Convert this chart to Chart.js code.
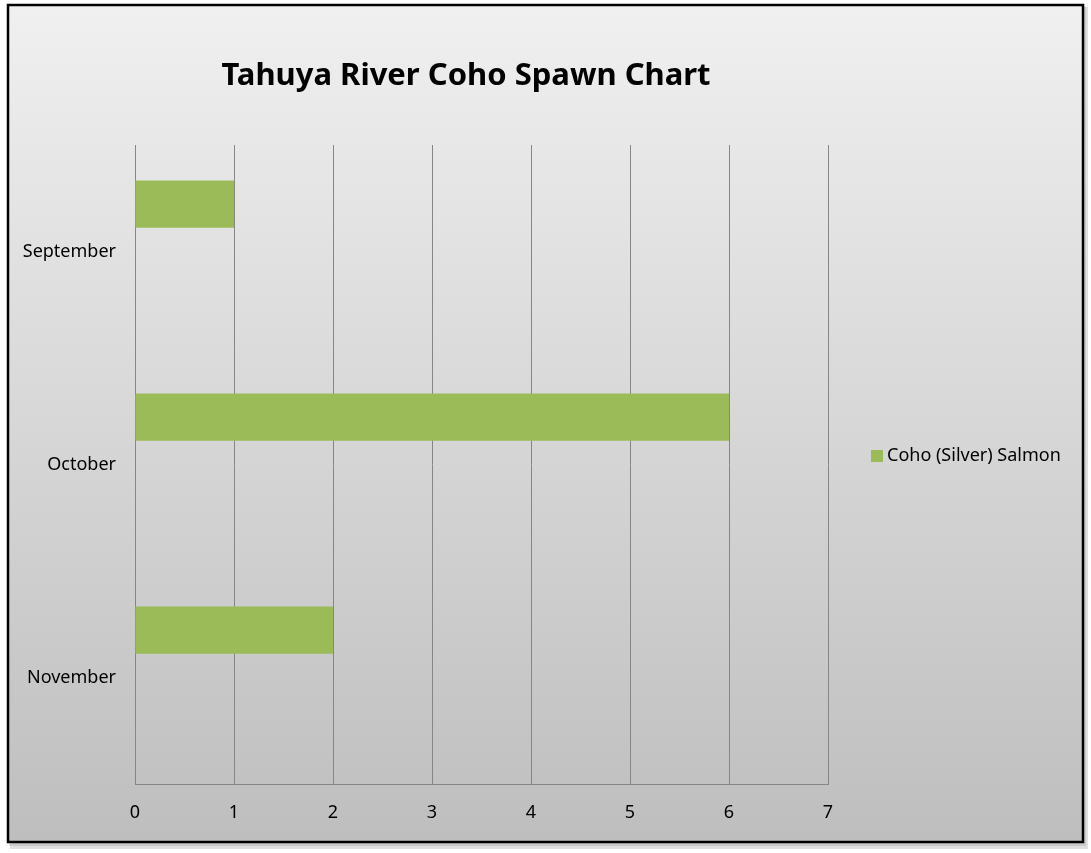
<!DOCTYPE html>
<html>
<head>
<meta charset="utf-8">
<script src="https://cdn.jsdelivr.net/npm/chart.js@4.4.0/dist/chart.umd.min.js"></script>
<style>
  html, body { margin: 0; padding: 0; background: #ffffff; }
  #wrap { width: 1091px; height: 853px; }
</style>
</head>
<body>
<div id="wrap"><canvas id="spawnChart" width="1091" height="853"></canvas></div>
<script>
// chart data
const categories = ['September', 'October', 'November'];
const cohoCounts = [1, 6, 2];
const emptySeriesA = [null, null, null];
const emptySeriesB = [null, null, null];
const seriesLabel = 'Coho (Silver) Salmon';
const chartTitle = 'Tahuya River Coho Spawn Chart';
const xMin = 0;
const xMax = 7;

const green = '#9bbb59';
const gridGray = '#868686';
const fontFamily = '"Noto Sans", "Open Sans", sans-serif';

// background, frame, title and legend
const framePlugin = {
  id: 'frame',
  beforeDraw(chart) {
    const ctx = chart.ctx;
    ctx.save();
    // shadow
    ctx.fillStyle = 'rgba(0,0,0,0.12)';
    ctx.fillRect(10, 7, 1078, 842);
    ctx.fillStyle = 'rgba(0,0,0,0.10)';
    ctx.fillRect(9, 6, 1077, 840);
    const g = ctx.createLinearGradient(0, 5, 0, 843);
    g.addColorStop(0, '#f0f0f0');
    g.addColorStop(1, '#bebebe');
    ctx.fillStyle = g;
    ctx.fillRect(8, 5, 1075, 837);
    ctx.lineWidth = 2.5;
    ctx.strokeStyle = '#000000';
    ctx.strokeRect(8, 5, 1075, 837);
    ctx.restore();
  },
  afterDraw(chart) {
    const ctx = chart.ctx;
    ctx.save();
    // title
    ctx.fillStyle = '#000000';
    ctx.font = 'bold 31px ' + fontFamily;
    ctx.textAlign = 'center';
    ctx.textBaseline = 'middle';
    ctx.fillText(chartTitle, 466, 76);
    // legend
    const ds = chart.data.datasets[0];
    ctx.fillStyle = ds.backgroundColor;
    ctx.fillRect(871, 450, 12, 12);
    ctx.fillStyle = '#000000';
    ctx.font = '18px ' + fontFamily;
    ctx.textAlign = 'left';
    ctx.fillText(ds.label, 887, 456);
    ctx.restore();
  }
};

const ctx = document.getElementById('spawnChart').getContext('2d');
const chart = new Chart(ctx, {
  type: 'bar',
  data: {
    labels: categories,
    datasets: [
      { label: seriesLabel, data: cohoCounts, backgroundColor: green },
      { label: '', data: emptySeriesA, backgroundColor: green },
      { label: '', data: emptySeriesB, backgroundColor: green }
    ]
  },
  options: {
    indexAxis: 'y',
    responsive: false,
    animation: false,
    categoryPercentage: 2 / 3,
    barPercentage: 1,
    layout: {
      padding: { left: 10, right: 263, top: 145, bottom: 0 }
    },
    plugins: {
      legend: { display: false },
      title: { display: false },
      tooltip: { enabled: false }
    },
    scales: {
      x: {
        min: xMin,
        max: xMax,
        ticks: {
          stepSize: 1,
          padding: 18,
          color: '#000000',
          font: { family: fontFamily, size: 18 }
        },
        grid: {
          color: gridGray,
          lineWidth: 1,
          drawTicks: false
        },
        border: { color: gridGray, width: 1 },
        afterFit(scale) { scale.height = 69; }
      },
      y: {
        ticks: {
          padding: 19,
          color: '#000000',
          font: { family: fontFamily, size: 18 }
        },
        grid: { display: false, drawTicks: false },
        border: { color: gridGray, width: 1 },
        afterFit(scale) { scale.width = 125; }
      }
    }
  },
  plugins: [framePlugin]
});
</script>
</body>
</html>
